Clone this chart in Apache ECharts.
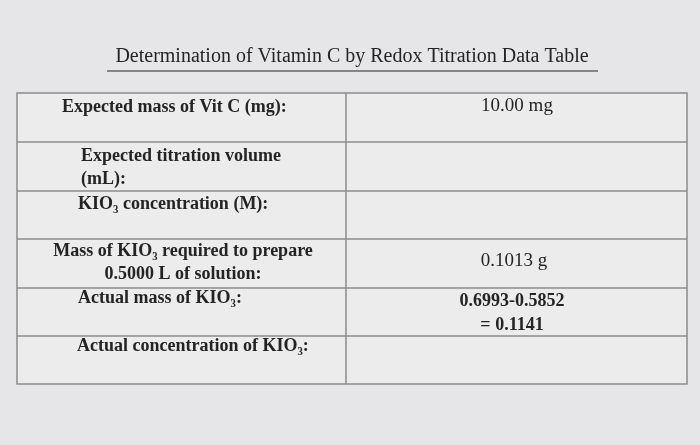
<!DOCTYPE html>
<html>
<head>
<meta charset="utf-8">
<script src="https://cdn.jsdelivr.net/npm/echarts@6/dist/echarts.min.js"></script>
<style>
  html, body { margin: 0; padding: 0; background: #e6e6e8; }
  #chart { width: 700px; height: 445px; }
</style>
</head>
<body>
<div id="chart"></div>
<script>
// table contents
var title = 'Determination of Vitamin C by Redox Titration Data Table';
var rowLabels = [
    'Expected mass of Vit C (mg):',
    'Expected titration volume\n(mL):',
    'KIO₃ concentration (M):',
    'Mass of KIO₃ required to prepare\n0.5000 L of solution:',
    'Actual mass of KIO₃:',
    'Actual concentration of KIO₃:'
];
var rowValues = ['10.00 mg', '', '', '0.1013 g', '0.6993-0.5852\n= 0.1141', ''];
var valueBold = [false, false, false, false, true, false];

// layout
var rowLines = [93, 142, 191, 239, 288, 336, 384];
var tableLeft = 17, tableRight = 687, colSplit = 346;
var labelPos = [[62, 96, 'left'], [81, 145, 'left'], [78, 193, 'left'], [183, 240, 'center'], [78, 287, 'left'], [77, 335, 'left']];
var valuePos = [[517, 94], [517, 146], [517, 194], [514, 249], [512, 289], [517, 340]];

var serif = '"Liberation Serif", "DejaVu Serif", serif';
var ink = '#242424';
var lineCol = '#8c8c8c';

var myChart = echarts.init(document.getElementById('chart'));
var g = [];

// cell background
g.push({ type: 'rect', shape: { x: tableLeft, y: rowLines[0], width: tableRight - tableLeft, height: rowLines[rowLines.length - 1] - rowLines[0] },
    style: { fill: '#ececed', stroke: lineCol, lineWidth: 1.5 } });
for (var i = 1; i < rowLines.length - 1; i++) {
    g.push({ type: 'line', shape: { x1: tableLeft, y1: rowLines[i], x2: tableRight, y2: rowLines[i] },
        style: { stroke: lineCol, lineWidth: 1.5 } });
}
g.push({ type: 'line', shape: { x1: colSplit, y1: rowLines[0], x2: colSplit, y2: rowLines[rowLines.length - 1] },
    style: { stroke: lineCol, lineWidth: 1.5 } });

// title + underline
g.push({ type: 'text', x: 352, y: 47, style: { text: title, font: '20px ' + serif, fill: ink, align: 'center' } });
g.push({ type: 'line', shape: { x1: 107, y1: 71, x2: 598, y2: 71 }, style: { stroke: ink, lineWidth: 1 } });

rowLabels.forEach(function(t, k) {
    var p = labelPos[k];
    g.push({ type: 'text', x: p[0], y: p[1], style: { text: t, font: 'bold 18px ' + serif, fill: ink, align: p[2], lineHeight: 23 } });
});
rowValues.forEach(function(t, k) {
    if (!t) return;
    var p = valuePos[k];
    g.push({ type: 'text', x: p[0], y: p[1], style: { text: t, font: (valueBold[k] ? 'bold 18px ' : '19px ') + serif, fill: ink, align: 'center', lineHeight: 24 } });
});

var option = { backgroundColor: '#e6e6e8', graphic: g };
myChart.setOption(option);
</script>
</body>
</html>
